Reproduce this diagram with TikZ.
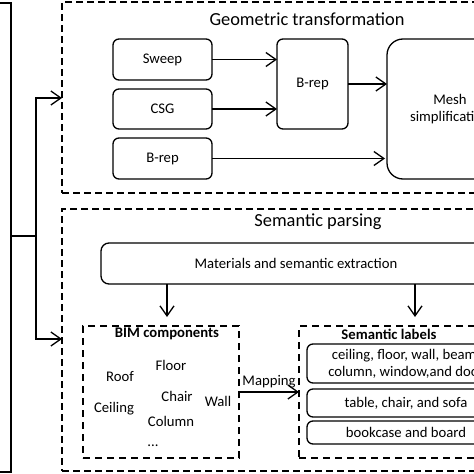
\documentclass[tikz,border=0pt]{standalone}
\usepackage{fontspec}
\setmainfont{Carlito}
\usetikzlibrary{arrows.meta,calc}
\begin{document}
\begin{tikzpicture}[x=1pt,y=-1pt,
  line width=1.3pt,
  body/.style={font=\fontsize{14.7}{17}\selectfont},
  ttl/.style={font=\fontsize{18.4}{22}\selectfont, inner sep=0pt},
  bold/.style={font=\fontsize{14.7}{17}\selectfont\bfseries, inner sep=0pt},
  word/.style={font=\fontsize{14.7}{17}\selectfont, inner sep=0pt},
  rbox/.style={draw, rounded corners=6pt, anchor=north west, inner sep=0pt, outer sep=0pt, align=center, body},
  dbox/.style={draw, dash pattern=on 7pt off 5pt, anchor=north west, inner sep=0pt, outer sep=0pt},
  obox/.style={draw, dash pattern=on 7pt off 4pt, line width=1.6pt, anchor=north west, inner sep=0pt, outer sep=0pt},
  arr/.style={-{Straight Barb[length=10pt,width=14pt]}},
]
\useasboundingbox (0,0) rectangle (474,474);
\clip (0,0) rectangle (474,474);

% source box (cut off at left)
\node[draw, anchor=north west, minimum width=80pt, minimum height=469pt, inner sep=0pt, outer sep=0pt] (src) at (-69,3) {};

% outer dashed boxes
\node[obox, minimum width=498pt, minimum height=191pt] (geo) at (62,2) {};
\node[obox, minimum width=498pt, minimum height=262pt] (sem) at (62,209) {};
\node[ttl] (geot) at (307,19) {Geometric transformation};
\node[ttl] (semt) at (318,222) {Semantic parsing};

% connectors from source
\coordinate (split) at (36,236);
\draw (src.east |- split) -- (split);
\draw[arr] (split) |- (geo.west |- 0,98);
\draw[arr] (split) |- (sem.west |- 0,339);

% geometric transformation
\node[rbox, minimum width=99pt, minimum height=41pt] (sweep) at (113,39) {Sweep};
\node[rbox, minimum width=99pt, minimum height=40pt] (csg) at (113,89) {CSG};
\node[rbox, minimum width=99pt, minimum height=41pt] (brepl) at (113,138) {B-rep};
\node[rbox, minimum width=71pt, minimum height=90pt] (brepm) at (277,39) {B-rep};
\node[rbox, rounded corners=16pt, minimum width=126pt, minimum height=140pt] (mesh) at (387,39) {Mesh\\simplification};

\draw[arr] (sweep.east) -- (sweep.east -| brepm.west);
\draw[arr] (csg.east) -- (csg.east -| brepm.west);
\draw[arr] (brepm.east) -- (brepm.east -| mesh.west);
\draw[arr, shorten >=2pt] (brepl.east) -- (brepl.east -| mesh.west);

% semantic parsing
\node[rbox, rounded corners=8pt, minimum width=390pt, minimum height=41pt] (mat) at (101,243) {Materials and semantic extraction};
\node[dbox, minimum width=156pt, minimum height=132pt] (bim) at (83,326) {};
\node[dbox, minimum width=214pt, minimum height=132pt] (sl) at (299,326) {};

\coordinate (a1) at (167,0);
\coordinate (a2) at (415,0);
\draw[arr, shorten >=9pt] (mat.south -| a1) -- (bim.north -| a1);
\draw[arr, shorten >=9pt] (mat.south -| a2) -- (sl.north -| a2);

\node[bold] (bimt) at (167,334) {BIM components};
\node[bold] (slt) at (389,334) {Semantic labels};

\node[word] (floor) at (171,365) {Floor};
\node[word] (roof) at (120,377) {Roof};
\node[word] (chair) at (177,396) {Chair};
\node[word] (wall) at (218,401) {Wall};
\node[word] (ceil) at (114,409) {Ceiling};
\node[word] (col) at (171,421) {Column};
\node[word] (dots) at (153,446) {...};

\draw[arr] (bim.east) -- (sl.west) node[midway, above=3pt, word] (map) {Mapping};

\node[rbox, minimum width=198pt, minimum height=39pt] (b1) at (307,344) {ceiling, floor, wall, beam,\\column, window,and door};
\node[rbox, minimum width=198pt, minimum height=28pt] (b2) at (307,389) {table, chair, and sofa};
\node[rbox, minimum width=198pt, minimum height=23pt] (b3) at (307,421) {bookcase and board};
\end{tikzpicture}
\end{document}
